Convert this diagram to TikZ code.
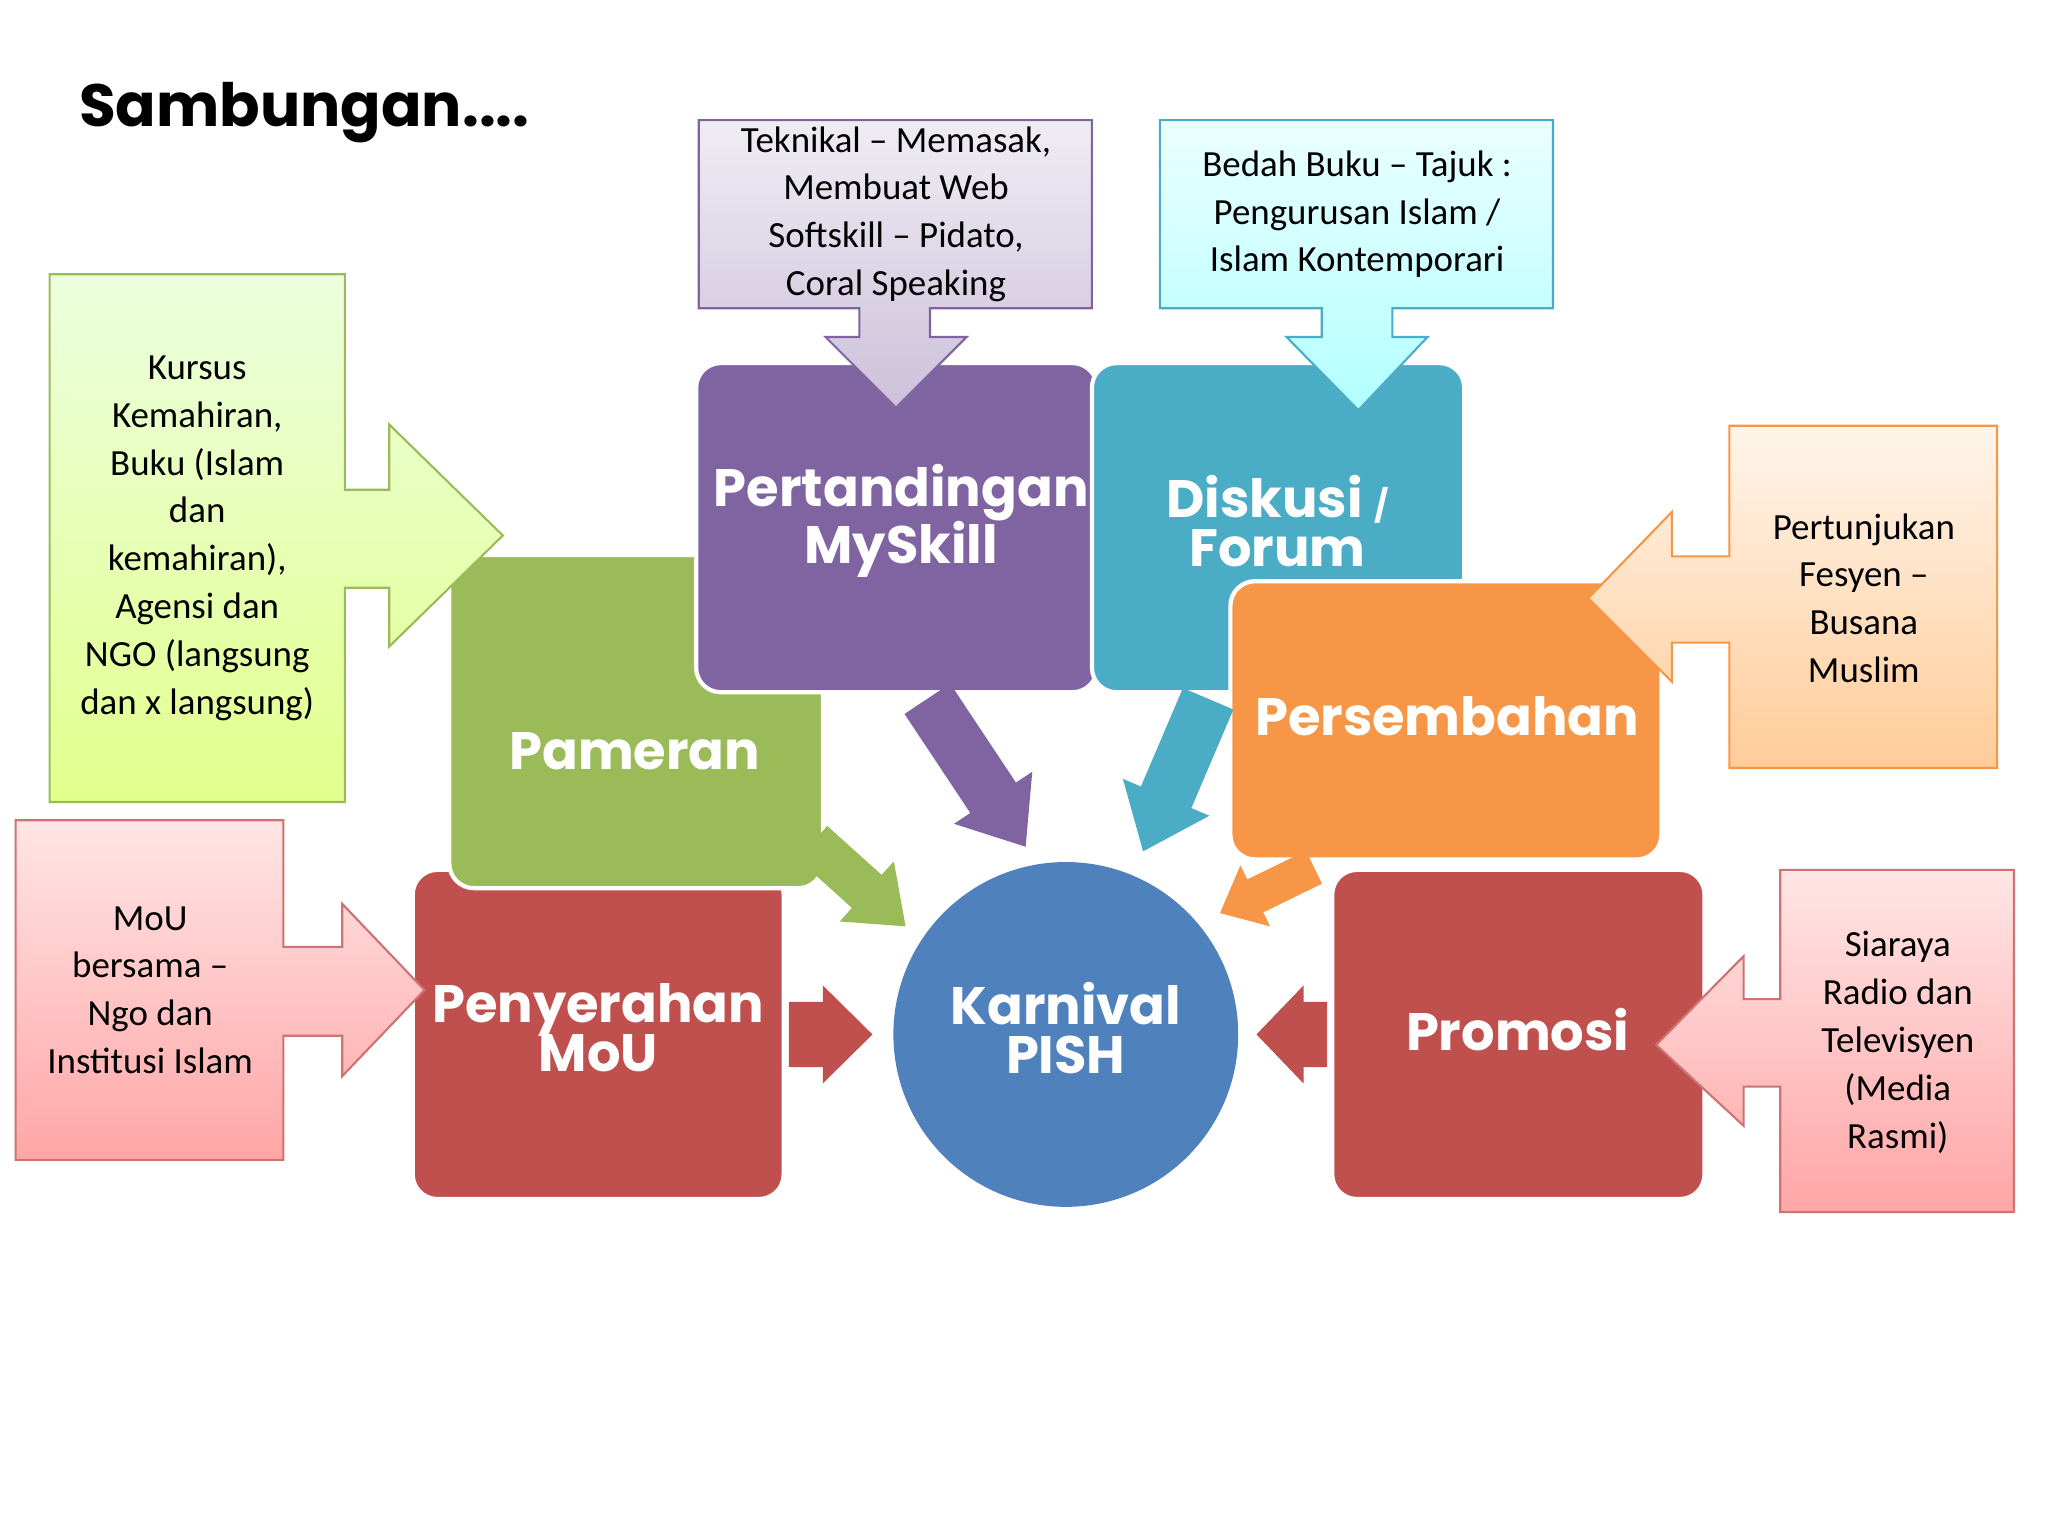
\documentclass[tikz,border=0pt]{standalone}
\usepackage{fontspec}
\setmainfont{Carlito}
\newfontfamily\hd{Poppins}
\usetikzlibrary{calc}
\definecolor{cgreen}{HTML}{9BBB59}
\definecolor{cpurple}{HTML}{8064A2}
\definecolor{cteal}{HTML}{4BACC6}
\definecolor{corange}{HTML}{F79646}
\definecolor{cred}{HTML}{C0504D}
\definecolor{cblue}{HTML}{4F81BD}
\tikzset{
 box/.style={draw=white,line width=1.2pt,rounded corners=7pt},
 lbl/.style={text=white,font=\hd\bfseries\fontsize{15}{15}\selectfont,align=center},
 ctext/.style={font=\fontsize{10.5}{13.6}\selectfont,align=center,text=black},
 callout/.style={line width=0.6pt},
}
\newcommand{\barrow}[8]{%
 \begin{scope}[shift={(#2,#3)},rotate=#4]
 \fill[#1] (0,-#6/2)--(#5-#8,-#6/2)--(#5-#8,-#7/2)--(#5,0)--(#5-#8,#7/2)--(#5-#8,#6/2)--(0,#6/2)--cycle;
 \end{scope}}
\begin{document}
\begin{tikzpicture}[x=0.01306cm,y=0.01306cm]
\useasboundingbox (0,0) rectangle (1568,-1176);
\fill[white] (0,0) rectangle (1568,-1176);
\node[anchor=west,inner sep=0pt,font=\hd\bfseries\fontsize{17}{17}\selectfont] (title) at (60,-86) {Sambungan....};
% main boxes
\fill[cred,box] (316,-666) rectangle (600,-918);
\node[lbl] (mou) at (458,-787) {Penyerahan\\[-1pt]MoU};
\fill[cgreen,box] (344,-425) rectangle (630,-680);
\node[lbl] (pam) at (486,-575) {Pameran};
\fill[cpurple,box] (533,-278) rectangle (840,-530);
\node[lbl] (per) at (690,-399) {Pertandingan\\[-1pt]MySkill};
\fill[cteal,box] (836,-278) rectangle (1121,-530);
\node[lbl] (dis) at (978,-399) {Diskusi {\fontsize{9}{9}\selectfont/}\\[-1pt]Forum};
\fill[corange,box] (942,-445) rectangle (1272,-658);
\node[lbl] (pers) at (1108,-548) {Persembahan};
\fill[cred,box] (1020,-666) rectangle (1305,-918);
\node[lbl] (pro) at (1162,-788) {Promosi};
\fill[cblue] (816,-792) circle (132);
\node[lbl] (kar) at (816,-787) {Karnival\\[-1pt]PISH};
% block arrows
\barrow{cpurple}{710}{-535}{-56.4}{136}{42}{72}{45}
\barrow{cteal}{925}{-535}{-113.1}{127}{42}{72}{45}
\barrow{cgreen}{622}{-645}{-42}{96}{34}{62}{40}
\barrow{corange}{1006}{-664}{-154}{80}{28}{52}{30}
\barrow{cred}{604}{-792}{0}{64}{50}{75}{38}
\barrow{cred}{1016}{-792}{180}{54}{50}{75}{36}
% callouts
\draw[callout,draw=cgreen,top color=green!8!white!95!yellow,bottom color=green!25!yellow!45!white]
 (38,-210)--(264,-210)--(264,-375)--(298,-375)--(298,-325)--(385,-410)--(298,-495)--(298,-450)--(264,-450)--(264,-614)--(38,-614)--cycle;
\node[ctext] (c1) at (151,-412) {Kursus\\Kemahiran,\\Buku (Islam\\dan\\kemahiran),\\Agensi dan\\NGO (langsung\\dan x langsung)};
\draw[callout,draw=cred!80,top color=red!10!white,bottom color=red!35!white]
 (12,-628)--(217,-628)--(217,-725)--(262,-725)--(262,-692)--(325,-758)--(262,-824)--(262,-793)--(217,-793)--(217,-888)--(12,-888)--cycle;
\node[ctext] (c2) at (115,-758) {MoU\\bersama --\\Ngo dan\\Institusi Islam};
\draw[callout,draw=cpurple,top color=cpurple!12!white,bottom color=cpurple!40!white]
 (535,-92)--(836,-92)--(836,-236)--(712,-236)--(712,-258)--(740,-258)--(686,-312)--(632,-258)--(658,-258)--(658,-236)--(535,-236)--cycle;
\node[ctext] (c3) at (686,-164) {Teknikal -- Memasak,\\Membuat Web\\Softskill -- Pidato,\\Coral Speaking};
\draw[callout,draw=cteal,top color=cyan!8!white,bottom color=cyan!30!white]
 (888,-92)--(1189,-92)--(1189,-236)--(1066,-236)--(1066,-258)--(1093,-258)--(1040,-314)--(985,-258)--(1012,-258)--(1012,-236)--(888,-236)--cycle;
\node[ctext] (c4) at (1039,-164) {Bedah Buku -- Tajuk :\\Pengurusan Islam /\\Islam Kontemporari};
\draw[callout,draw=corange,top color=orange!8!white,bottom color=orange!40!white]
 (1324,-326)--(1529,-326)--(1529,-588)--(1324,-588)--(1324,-492)--(1280,-492)--(1280,-522)--(1216,-458)--(1280,-392)--(1280,-426)--(1324,-426)--cycle;
\node[ctext] (c5) at (1427,-458) {Pertunjukan\\Fesyen --\\Busana\\Muslim};
\draw[callout,draw=cred!80,top color=red!10!white,bottom color=red!35!white]
 (1363,-666)--(1542,-666)--(1542,-928)--(1363,-928)--(1363,-832)--(1335,-832)--(1335,-862)--(1268,-800)--(1335,-732)--(1335,-765)--(1363,-765)--cycle;
\node[ctext] (c6) at (1453,-798) {Siaraya\\Radio dan\\Televisyen\\(Media\\Rasmi)};
\end{tikzpicture}
\end{document}
